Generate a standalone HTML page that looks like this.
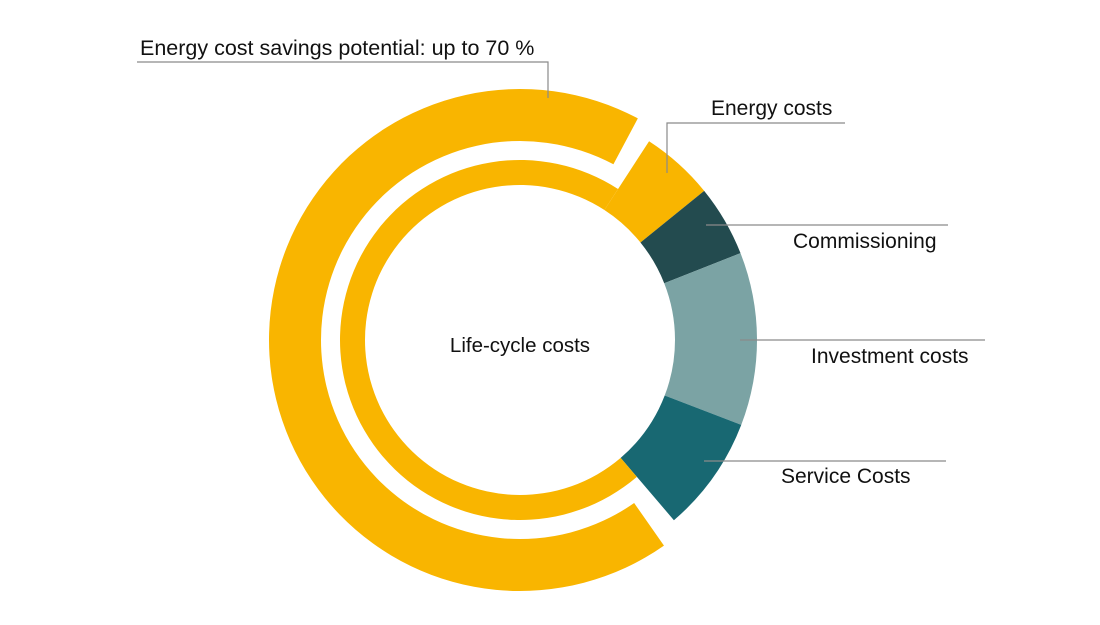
<!DOCTYPE html>
<html><head><meta charset="utf-8"><style>
html,body{margin:0;padding:0;background:#fff;}
svg{display:block;font-family:"Liberation Sans",sans-serif;}
</style></head><body>
<svg id="chart" width="1100" height="625" viewBox="0 0 1100 625" xmlns="http://www.w3.org/2000/svg">
<g id="rings"></g>
<g id="labels">
  <polyline points="137,62 548,62 548,98" fill="none" stroke="#8a8a8a" stroke-width="1.2"/>
  <text x="140" y="55" font-size="21.5" fill="#111">Energy cost savings potential: up to 70 %</text>
  <polyline points="845,123 667,123 667,173" fill="none" stroke="#8a8a8a" stroke-width="1.2"/>
  <text x="711" y="115" font-size="21" fill="#111">Energy costs</text>
  <line x1="706" y1="225" x2="948" y2="225" stroke="#8a8a8a" stroke-width="1.2"/>
  <text x="793" y="248" font-size="21" fill="#111">Commissioning</text>
  <line x1="740" y1="340" x2="985" y2="340" stroke="#8a8a8a" stroke-width="1.2"/>
  <text x="811" y="363" font-size="21" fill="#111">Investment costs</text>
  <line x1="704" y1="461" x2="946" y2="461" stroke="#8a8a8a" stroke-width="1.2"/>
  <text x="781" y="483" font-size="21" fill="#111">Service Costs</text>
  <text x="520" y="352" font-size="20.5" fill="#111" text-anchor="middle">Life-cycle costs</text>
</g>
<script>
const categories = ["Energy costs", "Commissioning", "Investment costs", "Service Costs", "Energy costs (remainder)"];
const segmentDegrees = [18, 17.5, 42.5, 28.5, 253.5];
const segmentColors = ["#f9b500", "#234b4f", "#7ba3a4", "#186872", "#f9b500"];
const savingsDegrees = [243];
const startAngle = -57;

const cx = 520, cy = 340;
const rInner = 155, rThinOuter = 180, rThickOuter = 237;
const rSavIn = 199, rSavOut = 251;
const g = document.getElementById('rings');
function pt(r, a){ const t = a*Math.PI/180; return [cx + r*Math.cos(t), cy + r*Math.sin(t)]; }
function arcPath(r0, r1, a0, a1){
  const large = (a1 - a0) > 180 ? 1 : 0;
  const p0 = pt(r1, a0), p1 = pt(r1, a1), p2 = pt(r0, a1), p3 = pt(r0, a0);
  return `M${p0[0]},${p0[1]} A${r1},${r1} 0 ${large} 1 ${p1[0]},${p1[1]} L${p2[0]},${p2[1]} A${r0},${r0} 0 ${large} 0 ${p3[0]},${p3[1]} Z`;
}
let a = startAngle;
segmentDegrees.forEach((d, i) => {
  const p = document.createElementNS('http://www.w3.org/2000/svg', 'path');
  const outer = i === segmentDegrees.length - 1 ? rThinOuter : rThickOuter;
  p.setAttribute('d', arcPath(rInner, outer, a, a + d));
  p.setAttribute('fill', segmentColors[i]);
  
  
  g.appendChild(p);
  a += d;
});
const savEnd = startAngle - 5 + 360;
const sav = document.createElementNS('http://www.w3.org/2000/svg', 'path');
sav.setAttribute('d', arcPath(rSavIn, rSavOut, savEnd - savingsDegrees[0], savEnd));
sav.setAttribute('fill', '#f9b500');


g.appendChild(sav);
</script>
</svg>
</body></html>
